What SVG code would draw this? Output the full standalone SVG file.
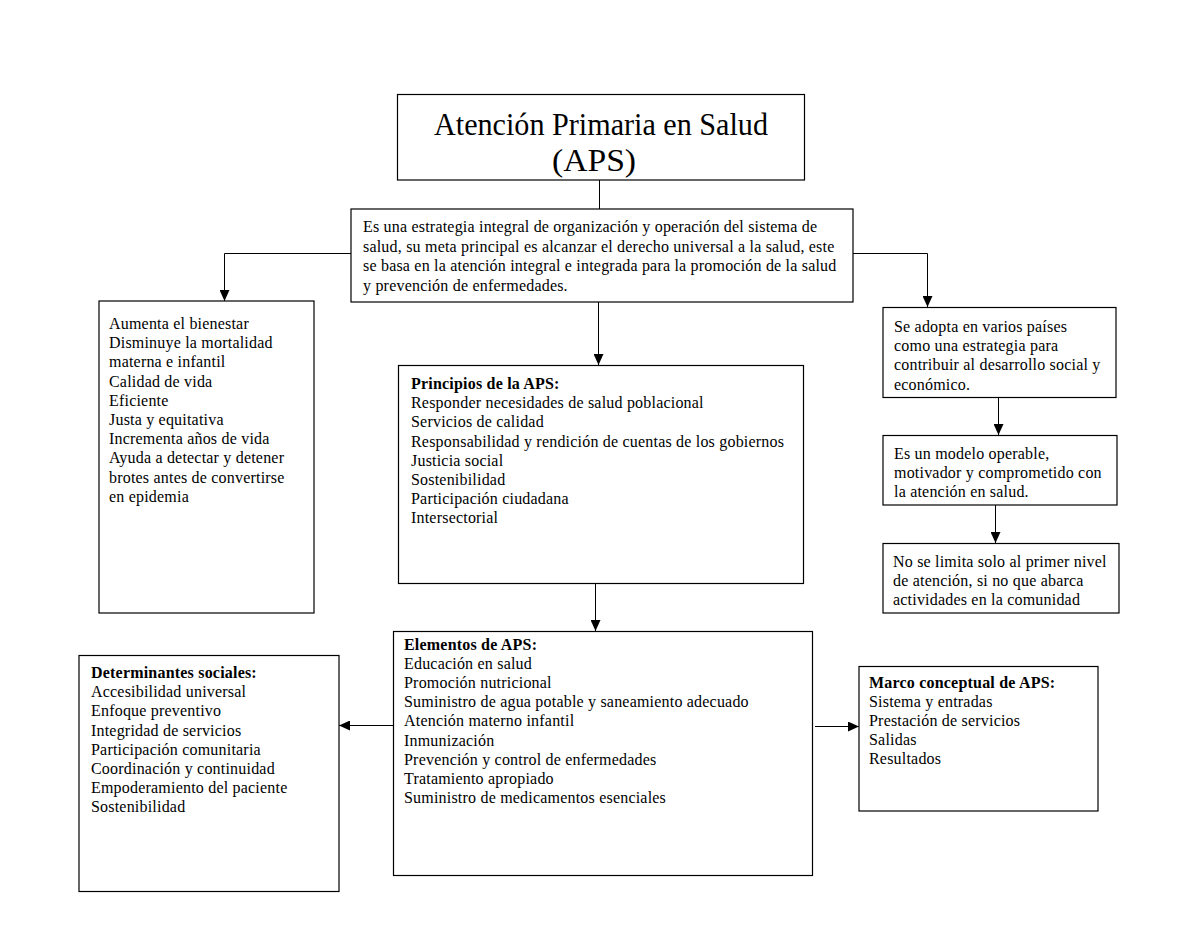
<svg xmlns="http://www.w3.org/2000/svg" width="1200" height="927" viewBox="0 0 1200 927">
<style>
.box{fill:#fff;stroke:#000;stroke-width:1.2}
.t{font-family:"Liberation Serif","Times New Roman",serif;font-size:16px;letter-spacing:0.2px;fill:#000}
.b{font-weight:bold}
.title{font-family:"Liberation Serif","Times New Roman",serif;font-size:31px;fill:#000}
.c{fill:none;stroke:#000;stroke-width:1}
</style>
<defs>
<marker id="arr" markerUnits="userSpaceOnUse" markerWidth="11" markerHeight="10" refX="11" refY="5" orient="auto">
<path d="M0,0 L11,5 L0,10 z" fill="#000"/>
</marker>
</defs>
<rect width="1200" height="927" fill="#fff"/>

<g id="connectors">
<path class="c" d="M599.5,180 V209"/>
<path class="c" d="M351,253.5 H224.5 V301" marker-end="url(#arr)"/>
<path class="c" d="M853,253.5 H927.5 V307" marker-end="url(#arr)"/>
<path class="c" d="M598.5,302 V365" marker-end="url(#arr)"/>
<path class="c" d="M595.5,583 V631" marker-end="url(#arr)"/>
<path class="c" d="M998.5,397 V435" marker-end="url(#arr)"/>
<path class="c" d="M995.5,505 V543" marker-end="url(#arr)"/>
<path class="c" d="M393,725.5 H339" marker-end="url(#arr)"/>
<path class="c" d="M815,726.5 H859" marker-end="url(#arr)"/>
</g>

<g id="title">
<rect class="box" x="397.5" y="94.5" width="407" height="85.5"/>
<text class="title" x="601" y="135" text-anchor="middle" textLength="334" lengthAdjust="spacingAndGlyphs">Atención Primaria en Salud</text>
<text class="title" x="594" y="170.5" text-anchor="middle" textLength="84" lengthAdjust="spacingAndGlyphs">(APS)</text>
</g>

<g id="descripcion">
<rect class="box" x="351" y="209" width="502" height="93"/>
<text class="t"><tspan x="363" y="232">Es una estrategia integral de organización y operación del sistema de</tspan><tspan x="363" y="251.5">salud, su meta principal es alcanzar el derecho universal a la salud, este</tspan><tspan x="363" y="271">se basa en la atención integral e integrada para la promoción de la salud</tspan><tspan x="363" y="290.5">y prevención de enfermedades.</tspan></text>
</g>

<g id="beneficios">
<rect class="box" x="99" y="301" width="215" height="312"/>
<text class="t"><tspan x="109" y="329">Aumenta el bienestar</tspan><tspan x="109" y="348.2">Disminuye la mortalidad</tspan><tspan x="109" y="367.4">materna e infantil</tspan><tspan x="109" y="386.6">Calidad de vida</tspan><tspan x="109" y="405.8">Eficiente</tspan><tspan x="109" y="425">Justa y equitativa</tspan><tspan x="109" y="444.2">Incrementa años de vida</tspan><tspan x="109" y="463.4">Ayuda a detectar y detener</tspan><tspan x="109" y="482.6">brotes antes de convertirse</tspan><tspan x="109" y="501.8">en epidemia</tspan></text>
</g>

<g id="principios">
<rect class="box" x="398.5" y="365.5" width="405" height="218"/>
<text class="t"><tspan class="b" x="411" y="389">Principios de la APS:</tspan><tspan x="411" y="408.2">Responder necesidades de salud poblacional</tspan><tspan x="411" y="427.4">Servicios de calidad</tspan><tspan x="411" y="446.6">Responsabilidad y rendición de cuentas de los gobiernos</tspan><tspan x="411" y="465.8">Justicia social</tspan><tspan x="411" y="485">Sostenibilidad</tspan><tspan x="411" y="504.2">Participación ciudadana</tspan><tspan x="411" y="523.4">Intersectorial</tspan></text>
</g>

<g id="adopta">
<rect class="box" x="883" y="307.5" width="233" height="90"/>
<text class="t"><tspan x="894" y="332">Se adopta en varios países</tspan><tspan x="894" y="351.2">como una estrategia para</tspan><tspan x="894" y="370.4">contribuir al desarrollo social y</tspan><tspan x="894" y="389.6">económico.</tspan></text>
</g>

<g id="modelo">
<rect class="box" x="883" y="435.5" width="234" height="69.5"/>
<text class="t"><tspan x="894" y="459">Es un modelo operable,</tspan><tspan x="894" y="478.2">motivador y comprometido con</tspan><tspan x="894" y="497.4">la atención en salud.</tspan></text>
</g>

<g id="limita">
<rect class="box" x="883" y="543.5" width="236" height="69.5"/>
<text class="t"><tspan x="893" y="567">No se limita solo al primer nivel</tspan><tspan x="893" y="586.2">de atención, si no que abarca</tspan><tspan x="893" y="605.4">actividades en la comunidad</tspan></text>
</g>

<g id="elementos">
<rect class="box" x="393.5" y="631.5" width="419" height="244"/>
<text class="t"><tspan class="b" x="404" y="650">Elementos de APS:</tspan><tspan x="404" y="669.1">Educación en salud</tspan><tspan x="404" y="688.2">Promoción nutricional</tspan><tspan x="404" y="707.3">Suministro de agua potable y saneamiento adecuado</tspan><tspan x="404" y="726.4">Atención materno infantil</tspan><tspan x="404" y="745.5">Inmunización</tspan><tspan x="404" y="764.6">Prevención y control de enfermedades</tspan><tspan x="404" y="783.7">Tratamiento apropiado</tspan><tspan x="404" y="802.8">Suministro de medicamentos esenciales</tspan></text>
</g>

<g id="determinantes">
<rect class="box" x="79" y="655.5" width="260" height="236"/>
<text class="t"><tspan class="b" x="91" y="678">Determinantes sociales:</tspan><tspan x="91" y="697.2">Accesibilidad universal</tspan><tspan x="91" y="716.4">Enfoque preventivo</tspan><tspan x="91" y="735.6">Integridad de servicios</tspan><tspan x="91" y="754.8">Participación comunitaria</tspan><tspan x="91" y="774">Coordinación y continuidad</tspan><tspan x="91" y="793.2">Empoderamiento del paciente</tspan><tspan x="91" y="812.4">Sostenibilidad</tspan></text>
</g>

<g id="marco">
<rect class="box" x="859" y="666.5" width="239" height="144.5"/>
<text class="t"><tspan class="b" x="869" y="688">Marco conceptual de APS:</tspan><tspan x="869" y="707.1">Sistema y entradas</tspan><tspan x="869" y="726.2">Prestación de servicios</tspan><tspan x="869" y="745.3">Salidas</tspan><tspan x="869" y="764.4">Resultados</tspan></text>
</g>
</svg>
